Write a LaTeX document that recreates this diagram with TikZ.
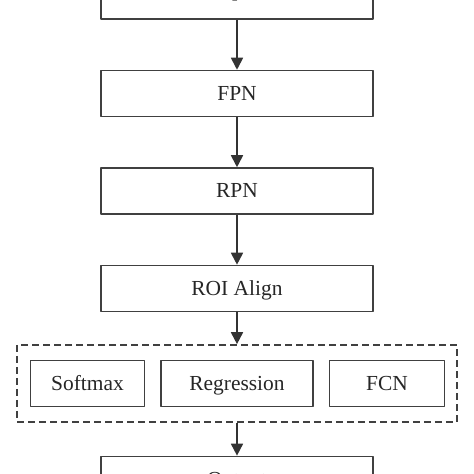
\documentclass[tikz,border=0pt]{standalone}
\usepackage{fontspec}
\setmainfont{Liberation Serif}
\usetikzlibrary{positioning,arrows.meta}
\begin{document}
\begin{tikzpicture}[x=0.02cm, y=-0.02cm, font=\fontsize{12.2}{14}\selectfont, line join=round, >={Triangle[length=0.24cm,width=0.24cm]}]
	\tikzset{khoi/.style={draw=black!75, text=black!85, line width=0.03cm, minimum width=5.44cm, minimum height=0.92cm, inner sep=0pt, text height=0.84em, text depth=0.06em},
		khoinho/.style={khoi, minimum width=2.28cm},
		muiten/.style={->, draw=black!80, line width=0.035cm}}
	\useasboundingbox (0,0) rectangle (474,474);
	\clip (0,0) rectangle (474,474);
	\node[khoi, minimum height=1.16cm] (Input) at (237,-10) {Input};
	\node[khoi, below=1cm of Input] (FPN) {FPN};
	\node[khoi, below=1cm of FPN] (RPN) {RPN};
	\node[khoi, below=1cm of RPN] (ROI) {ROI Align};
	% khung net dut
	\node[draw=black!75, line width=0.03cm, dash pattern=on 0.14cm off 0.08cm, minimum width=8.8cm, minimum height=1.54cm, inner sep=0pt, below=0.64cm of ROI] (Khung) {};
	\node[khoi, minimum width=3.04cm] (Reg) at (Khung) {Regression};
	\node[khoinho, left=0.3cm of Reg] (Soft) {Softmax};
	\node[khoinho, right=0.3cm of Reg, minimum width=2.3cm] (FCN) {FCN};
	\node[khoi, below=0.66cm of Khung] (Output) {Output};
	\foreach \a/\b in {Input/FPN, FPN/RPN, RPN/ROI, ROI/Khung, Khung/Output}
		\draw[muiten] (\a) -- (\b);
\end{tikzpicture}
\end{document}
